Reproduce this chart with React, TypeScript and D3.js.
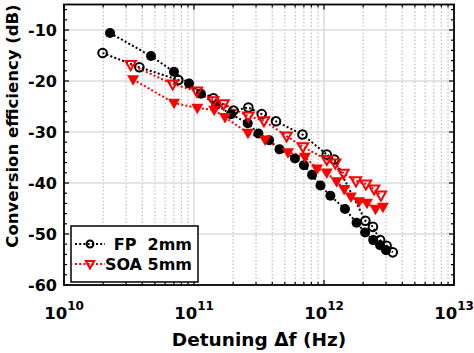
import { useRef, useEffect } from "react";
import * as d3 from "d3";

// FP 2mm, open circles (Hz, dB)
const fpOpenFreq = [1.98e10, 3.8e10, 7.57e10, 1.41e11, 2.01e11, 2.62e11, 3.32e11, 4.27e11, 6.83e11, 1.05e12, 1.2e12, 2.08e12, 2.38e12, 2.7e12, 3.03e12, 3.38e12];
const fpOpenDb = [-14.5, -17.3, -19.8, -23.4, -25.8, -25.2, -26.5, -27.9, -30.5, -34.4, -35.4, -47.4, -48.6, -51.2, -52.3, -53.6];

// filled black circles
const fpFilledFreq = [2.26e10, 4.67e10, 7.01e10, 9.16e10, 1.13e11, 1.48e11, 1.93e11, 2.59e11, 3.13e11, 3.78e11, 4.55e11, 5.98e11, 7.01e11, 8.09e11, 9.4e11, 1.12e12, 1.45e12, 1.78e12, 2.07e12, 2.39e12, 2.7e12, 3.0e12];
const fpFilledDb = [-10.6, -15.1, -18.2, -20.5, -22.5, -24.7, -26.5, -28.3, -30.3, -31.6, -33.4, -35.2, -36.5, -38.4, -40.5, -42.5, -45.1, -47.8, -49.7, -51.2, -52.2, -53.2];

// SOA 5mm, open red triangles
const soaOpenFreq = [3.26e10, 6.86e10, 1.05e11, 1.41e11, 1.69e11, 2.62e11, 3.45e11, 5.15e11, 6.89e11, 1.05e12, 1.22e12, 1.41e12, 1.76e12, 2.1e12, 2.43e12, 2.74e12];
const soaOpenDb = [-16.8, -20.6, -22.0, -23.9, -24.5, -26.9, -27.8, -30.8, -32.9, -35.4, -36.1, -38.1, -39.6, -40.2, -41.2, -42.4];

// filled red triangles
const soaFilledFreq = [3.4e10, 7.02e10, 1.06e11, 1.43e11, 1.73e11, 2.6e11, 3.52e11, 5.28e11, 7.14e11, 8.83e11, 1.05e12, 1.25e12, 1.43e12, 1.61e12, 1.86e12, 2.14e12, 2.49e12, 2.84e12];
const soaFilledDb = [-19.7, -24.3, -25.3, -25.7, -27.1, -30.2, -31.5, -34.0, -34.9, -37.2, -38.0, -39.7, -41.2, -42.7, -43.6, -43.9, -45.1, -44.7];

const yTicks = [-60, -50, -40, -30, -20, -10];
const xDecades = [1e10, 1e11, 1e12, 1e13];
const xTickExp = ["10", "11", "12", "13"];

const FONT = "'DejaVu Sans', sans-serif";

const triPath = (s) => `M${-s},${-s * 0.7}L${s},${-s * 0.7}L0,${s * 1.05}Z`;

const App = () => {
  const svgRef = useRef(null);

  useEffect(() => {
    const svg = d3.select(svgRef.current);
    svg.selectAll("*").remove();

    const left = 64, right = 454, top = 4.5, bottom = 285;
    const x = d3.scaleLog().domain([1e10, 1e13]).range([left, right]);
    const y = d3.scaleLinear().domain([-60, -5]).range([bottom, top]);

    svg.append("rect").attr("width", 474).attr("height", 353).attr("fill", "white");

    // minor vertical grid (dotted)
    const minorX = [];
    [1e10, 1e11, 1e12].forEach((d) => {
      for (let k = 2; k <= 9; k++) minorX.push(d * k);
    });
    svg.selectAll(".gminor")
      .data(minorX)
      .enter()
      .append("line")
      .attr("x1", (d) => x(d))
      .attr("x2", (d) => x(d))
      .attr("y1", top)
      .attr("y2", bottom)
      .style("stroke", "#bdbdbd")
      .style("stroke-width", 1.2)
      .style("stroke-dasharray", "1.5,2");

    // major grid
    svg.selectAll(".gx")
      .data([1e11, 1e12])
      .enter()
      .append("line")
      .attr("x1", (d) => x(d))
      .attr("x2", (d) => x(d))
      .attr("y1", top)
      .attr("y2", bottom)
      .style("stroke", "#dcdcdc")
      .style("stroke-width", 1.6);
    svg.selectAll(".gy")
      .data(yTicks.slice(1))
      .enter()
      .append("line")
      .attr("x1", left)
      .attr("x2", right)
      .attr("y1", (d) => y(d))
      .attr("y2", (d) => y(d))
      .style("stroke", "#dcdcdc")
      .style("stroke-width", 1.6);

    // ticks (inward, all four sides)
    const ticks = svg.append("g").style("stroke", "black").style("stroke-width", 1.2);
    const yMinor = d3.range(-58, -4, 2).filter((d) => d % 10 !== 0);
    yTicks.forEach((d) => {
      ticks.append("line").attr("x1", left).attr("x2", left + 5).attr("y1", y(d)).attr("y2", y(d));
      ticks.append("line").attr("x1", right).attr("x2", right - 5).attr("y1", y(d)).attr("y2", y(d));
    });
    yMinor.forEach((d) => {
      ticks.append("line").attr("x1", left).attr("x2", left + 3).attr("y1", y(d)).attr("y2", y(d));
      ticks.append("line").attr("x1", right).attr("x2", right - 3).attr("y1", y(d)).attr("y2", y(d));
    });
    xDecades.forEach((d) => {
      ticks.append("line").attr("x1", x(d)).attr("x2", x(d)).attr("y1", bottom).attr("y2", bottom - 5);
      ticks.append("line").attr("x1", x(d)).attr("x2", x(d)).attr("y1", top).attr("y2", top + 5);
    });
    minorX.forEach((d) => {
      ticks.append("line").attr("x1", x(d)).attr("x2", x(d)).attr("y1", bottom).attr("y2", bottom - 3);
      ticks.append("line").attr("x1", x(d)).attr("x2", x(d)).attr("y1", top).attr("y2", top + 3);
    });

    // series
    const lineGen = d3.line().x((d) => x(d[0])).y((d) => y(d[1]));
    const zip = (a, b) => a.map((v, i) => [v, b[i]]);

    const series = [
      { pts: zip(fpFilledFreq, fpFilledDb), color: "black", kind: "cf" },
      { pts: zip(fpOpenFreq, fpOpenDb), color: "black", kind: "co" },
      { pts: zip(soaOpenFreq, soaOpenDb), color: "#ff0000", kind: "to" },
      { pts: zip(soaFilledFreq, soaFilledDb), color: "#ff0000", kind: "tf" },
    ];

    series.forEach((s) => {
      svg.append("path")
        .datum(s.pts)
        .attr("d", lineGen)
        .attr("fill", "none")
        .attr("stroke", s.color)
        .attr("stroke-width", 2)
        .attr("stroke-dasharray", "2,2.2");
    });

    const drawMarker = (g, kind, color, cx, cy, scale) => {
      if (kind === "cf") {
        g.append("circle").attr("cx", cx).attr("cy", cy).attr("r", 5 * scale).attr("fill", color);
      } else if (kind === "co") {
        g.append("circle").attr("cx", cx).attr("cy", cy).attr("r", 4.3 * scale)
          .attr("fill", "none").attr("stroke", color).attr("stroke-width", 2);
      } else if (kind === "to") {
        g.append("path").attr("transform", `translate(${cx},${cy})`).attr("d", triPath(5.2 * scale))
          .attr("fill", "none").attr("stroke", color).attr("stroke-width", 2).attr("stroke-linejoin", "miter");
      } else {
        g.append("path").attr("transform", `translate(${cx},${cy})`).attr("d", triPath(6 * scale))
          .attr("fill", color);
      }
    };

    series.forEach((s) => {
      const g = svg.append("g");
      s.pts.forEach((p) => drawMarker(g, s.kind, s.color, x(p[0]), y(p[1]), 1));
    });

    // axes box
    svg.append("rect")
      .attr("x", left)
      .attr("y", top)
      .attr("width", right - left)
      .attr("height", bottom - top)
      .attr("fill", "none")
      .attr("stroke", "black")
      .attr("stroke-width", 1.8);

    // y tick labels
    svg.selectAll(".ylab")
      .data(yTicks)
      .enter()
      .append("text")
      .attr("x", 57)
      .attr("y", (d) => y(d))
      .attr("dy", "0.36em")
      .attr("text-anchor", "end")
      .style("font-family", FONT)
      .style("font-weight", "bold")
      .style("font-size", "16px")
      .text((d) => d);

    // x tick labels
    xDecades.forEach((d, i) => {
      const t = svg.append("text")
        .attr("x", x(d))
        .attr("y", 319)
        .attr("text-anchor", "middle")
        .style("font-family", FONT)
        .style("font-weight", "bold")
        .style("font-size", "16.5px");
      t.append("tspan").text("10");
      t.append("tspan").attr("dy", -9).style("font-size", "12px").text(xTickExp[i]);
    });

    // axis labels
    svg.append("text")
      .attr("x", (left + right) / 2)
      .attr("y", 346)
      .attr("text-anchor", "middle")
      .style("font-family", FONT)
      .style("font-weight", "bold")
      .style("font-size", "18.5px")
      .text("Detuning Δf (Hz)");

    svg.append("text")
      .attr("transform", "translate(18,126) rotate(-90)")
      .attr("text-anchor", "middle")
      .style("font-family", FONT)
      .style("font-weight", "bold")
      .style("font-size", "16.5px")
      .text("Conversion efficiency (dB)");

    // legend
    const lg = svg.append("g");
    lg.append("rect")
      .attr("x", 71)
      .attr("y", 226)
      .attr("width", 127)
      .attr("height", 56)
      .attr("fill", "white")
      .attr("stroke", "black")
      .attr("stroke-width", 1.5);
    const legendItems = [
      { label: "FP  2mm", color: "black", kind: "co", yy: 244 },
      { label: "SOA 5mm", color: "#ff0000", kind: "to", yy: 264 },
    ];
    legendItems.forEach((it) => {
      lg.append("line")
        .attr("x1", 75)
        .attr("x2", 105)
        .attr("y1", it.yy)
        .attr("y2", it.yy)
        .attr("stroke", it.color)
        .attr("stroke-width", 2)
        .attr("stroke-dasharray", "2,2.2");
      drawMarker(lg, it.kind, it.color, 90, it.yy, 0.8);
      lg.append("text")
        .attr("x", 192)
        .attr("y", it.yy)
        .attr("dy", "0.36em")
        .attr("text-anchor", "end")
        .attr("xml:space", "preserve")
        .style("white-space", "pre")
        .style("font-family", FONT)
        .style("font-weight", "bold")
        .style("font-size", "16px")
        .text(it.label);
    });
  }, []);

  return (
    <svg
      ref={svgRef}
      width={474}
      height={353}
      style={{ position: "fixed", top: 0, left: 0, display: "block" }}
    ></svg>
  );
};

export default App;
